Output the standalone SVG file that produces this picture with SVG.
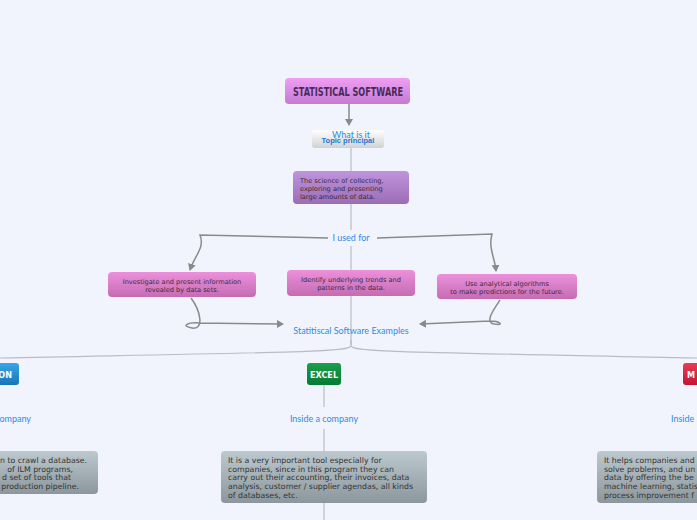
<svg xmlns="http://www.w3.org/2000/svg" width="697" height="520" viewBox="0 0 697 520">
<defs>
<style>
.b{font-family:"DejaVu Sans","Liberation Sans",sans-serif;font-size:6.6px;fill:#3a2a3a}
.g{font-family:"DejaVu Sans","Liberation Sans",sans-serif;font-size:7.8px;fill:#333}
.lb{font-family:"Lato","Liberation Sans",sans-serif;font-size:9px;fill:#2d8be6}
.t{font-family:"DejaVu Sans Condensed","DejaVu Sans",sans-serif;font-weight:bold;fill:#fff;font-size:9px}
.c{fill:none;stroke:#8a8a8a;stroke-width:1.5}
.c2{fill:none;stroke:#b8bcc6;stroke-width:1.2}
</style>
<linearGradient id="gt" x1="0" y1="0" x2="0" y2="1"><stop offset="0" stop-color="#ee9ff3"/><stop offset="1" stop-color="#c47ad2"/></linearGradient>
<linearGradient id="gw" x1="0" y1="0" x2="0" y2="1"><stop offset="0" stop-color="#ffffff"/><stop offset="1" stop-color="#d2d2d2"/></linearGradient>
<linearGradient id="gp" x1="0" y1="0" x2="0" y2="1"><stop offset="0" stop-color="#c094dd"/><stop offset="1" stop-color="#9a6db5"/></linearGradient>
<linearGradient id="gk" x1="0" y1="0" x2="0" y2="1"><stop offset="0" stop-color="#ec90dc"/><stop offset="1" stop-color="#c46cb3"/></linearGradient>
<linearGradient id="gg" x1="0" y1="0" x2="0" y2="1"><stop offset="0" stop-color="#bcc9cf"/><stop offset="1" stop-color="#8c979d"/></linearGradient>
<linearGradient id="gb" x1="0" y1="0" x2="0" y2="1"><stop offset="0" stop-color="#38a6e6"/><stop offset="1" stop-color="#1676b8"/></linearGradient>
<linearGradient id="ge" x1="0" y1="0" x2="0" y2="1"><stop offset="0" stop-color="#1aa04a"/><stop offset="1" stop-color="#057a33"/></linearGradient>
<linearGradient id="gr" x1="0" y1="0" x2="0" y2="1"><stop offset="0" stop-color="#ea3a55"/><stop offset="1" stop-color="#c21634"/></linearGradient>
<marker id="a" markerWidth="8" markerHeight="8" refX="6" refY="4" orient="auto" markerUnits="userSpaceOnUse"><path d="M0,0 L7,4 L0,8 Z" fill="#8a8a8a"/></marker>
</defs>
<rect width="697" height="520" fill="#f2f4fd"/>
<g id="connectors">
<path class="c" d="M349,104 V125" marker-end="url(#a)"/>
<path class="c2" d="M351,148 V230 M351,246 V345"/>
<path class="c" d="M328,238 L200,235 C205,248 195,255 190,270" marker-end="url(#a)"/>
<path class="c" d="M377,238 L492,234 C488,248 495,258 496,271" marker-end="url(#a)"/>
<path class="c" d="M191,298 C200,310 205,330 192,328 C180,326 188,322 200,323 L283,324" marker-end="url(#a)"/>
<path class="c" d="M500,300 C492,312 485,322 494,324 C505,326 500,321 490,321 L420,324" marker-end="url(#a)"/>
<path class="c2" d="M351,340 V346 C349,352 300,352 0,358 M351,346 C353,352 400,352 697,358"/>
<path class="c2" d="M324,385 V407 M324,429 V451 M324,503 V520"/>
</g>
<g id="n-title"><rect x="285" y="78" width="125" height="26" rx="4" fill="url(#gt)"/><text x="348" y="96" text-anchor="middle" font-family="DejaVu Sans Condensed,sans-serif" font-size="12" font-weight="bold" fill="#4a2a5a" textLength="110" lengthAdjust="spacingAndGlyphs">STATISTICAL SOFTWARE</text></g>
<g id="n-what"><rect x="312" y="130" width="72" height="18" rx="3" fill="url(#gw)"/><text x="351" y="138" text-anchor="middle" class="lb" font-size="8.5">What is it</text><text x="348" y="143" text-anchor="middle" font-family="Liberation Sans,sans-serif" font-size="7.5" font-weight="bold" fill="#1a73d8">Topic principal</text></g>
<g id="n-science"><rect x="293" y="171" width="116" height="33" rx="4" fill="url(#gp)"/><text class="b" x="300" y="183">The science of collecting,</text><text class="b" x="300" y="191">exploring and presenting</text><text class="b" x="300" y="199">large amounts of data.</text></g>
<g id="n-used"><text class="lb" x="351" y="241" text-anchor="middle">I used for</text></g>
<g id="n-inv"><rect x="108" y="272" width="148" height="25" rx="4" fill="url(#gk)"/><text class="b" x="182" y="284" text-anchor="middle">Investigate and present information</text><text class="b" x="182" y="292" text-anchor="middle">revealed by data sets.</text></g>
<g id="n-id"><rect x="287" y="270" width="128" height="26" rx="4" fill="url(#gk)"/><text class="b" x="351" y="282" text-anchor="middle">Identify underlying trends and</text><text class="b" x="351" y="290" text-anchor="middle">patterns in the data.</text></g>
<g id="n-use"><rect x="437" y="274" width="140" height="25" rx="4" fill="url(#gk)"/><text class="b" x="507" y="286" text-anchor="middle">Use analytical algorithms</text><text class="b" x="507" y="294" text-anchor="middle">to make predictions for the future.</text></g>
<g id="n-ex"><text class="lb" x="351" y="334" text-anchor="middle" font-size="10">Statitiscal Software Examples</text></g>
<g id="n-left"><rect x="-25" y="363" width="44" height="22" rx="3" fill="url(#gb)"/><text class="t" x="12" y="378" text-anchor="end">ION</text></g>
<g id="n-excel"><rect x="307" y="363" width="34" height="22" rx="3" fill="url(#ge)"/><text class="t" x="324" y="378" text-anchor="middle">EXCEL</text></g>
<g id="n-right"><rect x="683" y="363" width="30" height="22" rx="3" fill="url(#gr)"/><text class="t" x="687" y="378">M</text></g>
<g id="n-in1"><text class="lb" x="31" y="422" text-anchor="end">ompany</text></g>
<g id="n-in2"><text class="lb" x="324" y="422" text-anchor="middle">Inside a company</text></g>
<g id="n-in3"><text class="lb" x="671" y="422">Inside a</text></g>
<g id="n-d1"><rect x="-20" y="451" width="118" height="43" rx="4" fill="url(#gg)"/><text class="g" x="87" y="463" text-anchor="end">n to crawl a database.</text><text class="g" x="73" y="472" text-anchor="end">of ILM programs,</text><text class="g" x="71" y="480" text-anchor="end">d set of tools that</text><text class="g" x="79" y="489" text-anchor="end">production pipeline.</text></g>
<g id="n-d2"><rect x="221" y="451" width="206" height="52" rx="4" fill="url(#gg)"/><text class="g" x="228" y="463">It is a very important tool especially for</text><text class="g" x="228" y="472">companies, since in this program they can</text><text class="g" x="228" y="480">carry out their accounting, their invoices, data</text><text class="g" x="228" y="489">analysis, customer / supplier agendas, all kinds</text><text class="g" x="228" y="498">of databases, etc.</text></g>
<g id="n-d3"><rect x="597" y="451" width="110" height="52" rx="4" fill="url(#gg)"/><text class="g" x="604" y="463">It helps companies and</text><text class="g" x="604" y="472">solve problems, and un</text><text class="g" x="604" y="480">data by offering the be</text><text class="g" x="604" y="489">machine learning, statis</text><text class="g" x="604" y="498">process improvement f</text></g>
</svg>
